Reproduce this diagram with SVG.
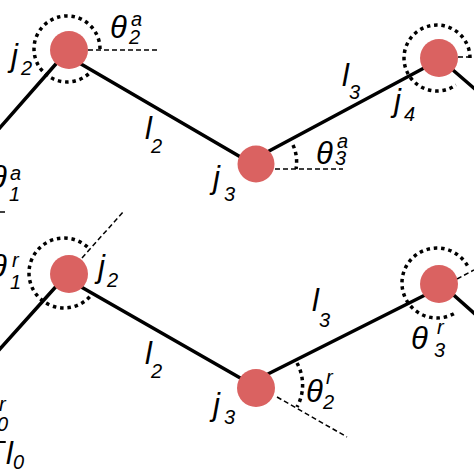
<svg xmlns="http://www.w3.org/2000/svg" width="474" height="474" viewBox="0 0 474 474">
<style>
.link{stroke:#000;stroke-width:3.5;fill:none;stroke-linecap:round}
.dash{stroke:#000;stroke-width:1.5;fill:none;stroke-dasharray:5 3}
.dot{stroke:#000;stroke-width:3.5;fill:none;stroke-dasharray:3.5 3.8}
.joint{fill:#da6261}
text{font-family:"Liberation Sans",Arial,sans-serif;font-style:italic;fill:#000}
.m{font-size:31px}
.s{font-size:20px}
</style>
<rect width="474" height="474" fill="#fff"/>
<g id="connectors">
  <line class="link" x1="69" y1="49" x2="-2" y2="130"/>
  <line class="link" x1="69" y1="57" x2="256" y2="166"/>
  <line class="link" x1="256" y1="158" x2="439" y2="60"/>
  <line class="link" x1="439" y1="58" x2="476" y2="90"/>
  <line class="dash" x1="88" y1="50" x2="157" y2="50"/>
  <line class="dash" x1="275" y1="169" x2="343" y2="169"/>
  <line class="dash" x1="458" y1="57" x2="474" y2="57"/>
  <line class="dash" x1="0" y1="212" x2="6" y2="212"/>
  <path class="dot" d="M100,49 A33,33 0 1 0 90.3,72.3"/>
  <path class="dot" d="M470,58 A33,33 0 1 0 456,85"/>
  <path class="dot" d="M293,145 A41,41 0 0 1 296,169"/>
  <line class="link" x1="69" y1="272" x2="-2" y2="351"/>
  <line class="link" x1="69" y1="280" x2="256" y2="387"/>
  <line class="link" x1="256" y1="380" x2="439" y2="288"/>
  <line class="link" x1="439" y1="282" x2="476" y2="315"/>
  <line class="dash" x1="82" y1="258" x2="123" y2="212"/>
  <line class="dash" x1="277" y1="397" x2="347" y2="437"/>
  <line class="dash" x1="457" y1="279" x2="474" y2="270"/>
  <line class="link" x1="0" y1="442" x2="5" y2="442" style="stroke-width:2"/>
  <path class="dot" d="M87.4,247 A35,35 0 1 0 91.6,294.5"/>
  <path class="dot" d="M467.4,265.7 A35,35 0 1 0 457,311.7"/>
  <path class="dot" d="M297,363 A46,46 0 0 1 297,407"/>
</g>
<g id="j2-top"><circle class="joint" cx="69" cy="50" r="19"/></g>
<g id="j3-top"><circle class="joint" cx="256" cy="164" r="18.5"/></g>
<g id="j4-top"><circle class="joint" cx="439" cy="58" r="19"/></g>
<g id="j2-bottom"><circle class="joint" cx="69" cy="274" r="19"/></g>
<g id="j3-bottom"><circle class="joint" cx="256" cy="388" r="19"/></g>
<g id="j4-bottom"><circle class="joint" cx="439" cy="284" r="19"/></g>
<g id="labels">
  <text class="m" x="110" y="38">θ</text><text class="s" x="131" y="26">a</text><text class="s" x="129" y="44">2</text>
  <text class="m" x="11" y="66">j</text><text class="s" x="21" y="75">2</text>
  <text class="m" x="145" y="139">l</text><text class="s" x="151" y="153">2</text>
  <text class="m" x="342" y="86">l</text><text class="s" x="349" y="99">3</text>
  <text class="m" x="394" y="111">j</text><text class="s" x="404" y="121">4</text>
  <text class="m" x="316" y="164">θ</text><text class="s" x="337" y="148">a</text><text class="s" x="335" y="165">3</text>
  <text class="m" x="213" y="188">j</text><text class="s" x="224" y="201">3</text>
  <text class="m" x="-10" y="188">θ</text><text class="s" x="10" y="180">a</text><text class="s" x="9" y="201">1</text>
  <text class="m" x="-10" y="277">θ</text><text class="s" x="12" y="267">r</text><text class="s" x="10" y="289">1</text>
  <text class="m" x="98" y="277">j</text><text class="s" x="107" y="287">2</text>
  <text class="m" x="145" y="364">l</text><text class="s" x="151" y="378">2</text>
  <text class="m" x="312" y="311">l</text><text class="s" x="319" y="327">3</text>
  <text class="m" x="306" y="402">θ</text><text class="s" x="326" y="384">r</text><text class="s" x="323" y="409">2</text>
  <text class="m" x="213" y="415">j</text><text class="s" x="224" y="424">3</text>
  <text class="m" x="411" y="349">θ</text><text class="s" x="437" y="334">r</text><text class="s" x="434" y="357">3</text>
  <text class="s" x="-1" y="411">r</text><text class="s" x="-3" y="431">0</text>
  <text class="m" x="6" y="464">l</text><text class="s" x="13" y="469">0</text>
</g>
</svg>
